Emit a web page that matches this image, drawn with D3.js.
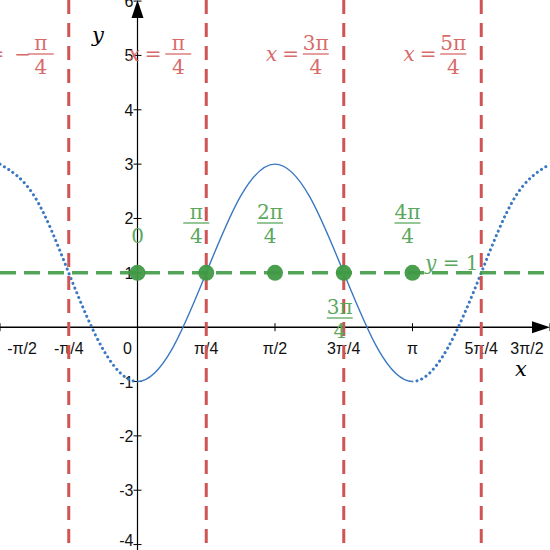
<!DOCTYPE html>
<html><head><meta charset="utf-8">
<script src="https://cdn.jsdelivr.net/npm/d3@7"></script>
<style>body{margin:0;background:#fff}svg{display:block}</style>
</head><body><div id="chart"></div>
<script>
const PI = Math.PI;
// x tick positions (multiples of pi/4) and labels
const xTickVals = [-2, -1, 0, 1, 2, 3, 4, 5, 6];
const xTickLabels = ["-π/2", "-π/4", "0", "π/4", "π/2", "3π/4", "π", "5π/4", "3π/2"];
const yTickVals = [-4, -3, -2, -1, 1, 2, 3, 4, 5, 6];
const curveX = [-4, -3, -2, -1, 0, 1, 2, 3, 4, 5, 6, 7, 8, 9, 10, 11, 12];
const curveY = [3, 2.41, 1, -0.41, -1, -0.41, 1, 2.41, 3, 2.41, 1, -0.41, -1, -0.41, 1, 2.41, 3];
// vertical dashed lines (pi/4 units) with numerators
const vLines = [-1, 1, 3, 5];
const vNums = ["π", "π", "3π", "5π"];
// points on y = 1 (pi/4 units) and labels
const ptX = [0, 1, 2, 3, 4];
const ptLabels = [null, "π", "2π", "3π", "4π"];

const width = 550, height = 550;
const svg = d3.select("#chart").append("svg").attr("width", width).attr("height", height);
const x = d3.scaleLinear().domain([-PI / 2, 3 * PI / 2]).range([0, 550]);
const y = d3.scaleLinear().domain([-4.1, 6.02]).range([550, 0]);
const x0 = x(0), y0 = y(0);
const serif = "'DejaVu Serif', 'Liberation Serif', serif";
const sans = "'Liberation Sans', Arial, sans-serif";

// axes
svg.append("line").attr("x1", 0).attr("x2", 538).attr("y1", y0).attr("y2", y0).attr("stroke", "#000").attr("stroke-width", 1.5);
svg.append("path").attr("d", `M550,${y0} L532,${y0 - 6} L532,${y0 + 6} Z`);
svg.append("line").attr("x1", x0).attr("x2", x0).attr("y1", 550).attr("y2", 12).attr("stroke", "#000").attr("stroke-width", 1.2);
svg.append("path").attr("d", `M${x0},0 L${x0 - 6},18 L${x0 + 6},18 Z`);

xTickVals.forEach((v, i) => {
  const px = x(v * PI / 4);
  if (v !== 0) svg.append("line").attr("x1", px).attr("x2", px).attr("y1", y0 - 4).attr("y2", y0 + 4).attr("stroke", "#000");
  let lx = px;
  if (v === 0) lx = px - 10;
  if (v === -2) lx = 22;
  if (v === 6) lx = 527;
  svg.append("text").attr("x", lx).attr("y", y0 + 27).attr("text-anchor", "middle").attr("fill", "#111")
    .attr("font-family", sans).attr("font-size", 16).text(xTickLabels[i]);
});
yTickVals.forEach(v => {
  const py = y(v);
  svg.append("line").attr("x1", x0 - 4).attr("x2", x0 + 4).attr("y1", py).attr("y2", py).attr("stroke", "#000");
  svg.append("text").attr("x", x0 - 4).attr("y", Math.min(py + 6, 546)).attr("text-anchor", "end").attr("fill", "#111")
    .attr("font-family", sans).attr("font-size", 16).text(v);
});
svg.append("text").attr("x", 92).attr("y", 42).attr("font-family", serif).attr("font-style", "italic").attr("font-size", 21).text("y");
svg.append("text").attr("x", 515).attr("y", 376).attr("font-family", serif).attr("font-style", "italic").attr("font-size", 21).text("x");

// curve: one smooth path, split by clipping into dotted and solid parts
const pts = curveX.map((v, i) => [v * PI / 8, curveY[i]]);
const line = d3.line().x(d => x(d[0])).y(d => y(d[1])).curve(d3.curveNatural);
const defs = svg.append("defs");
defs.append("clipPath").attr("id", "inner").append("rect").attr("x", x(0)).attr("y", 0).attr("width", x(PI) - x(0)).attr("height", 550);
const outer = defs.append("clipPath").attr("id", "outer");
outer.append("rect").attr("x", 0).attr("y", 0).attr("width", x(0)).attr("height", 550);
outer.append("rect").attr("x", x(PI)).attr("y", 0).attr("width", 550 - x(PI)).attr("height", 550);
svg.append("path").attr("d", line(pts)).attr("clip-path", "url(#outer)").attr("fill", "none").attr("stroke", "#3a78c2")
  .attr("stroke-width", 3).attr("stroke-dasharray", "0.1 5").attr("stroke-linecap", "round");
svg.append("path").attr("d", line(pts)).attr("clip-path", "url(#inner)").attr("fill", "none").attr("stroke", "#3a78c2").attr("stroke-width", 1.4);

// fraction helper
function frac(cx, cy, num, den, color) {
  const g = svg.append("g").attr("fill", color).attr("font-family", serif).attr("font-size", 20);
  g.append("text").attr("x", cx).attr("y", cy - 4).attr("text-anchor", "middle").text(num);
  g.append("line").attr("x1", cx - 13).attr("x2", cx + 13).attr("y1", cy).attr("y2", cy).attr("stroke", color).attr("stroke-width", 1.3);
  g.append("text").attr("x", cx).attr("y", cy + 20).attr("text-anchor", "middle").text(den);
}

// red vertical lines
const red = "#d05454", redText = "#d86a6a";
vLines.forEach((v, i) => {
  const px = x(v * PI / 4);
  svg.append("line").attr("x1", px).attr("x2", px).attr("y1", 0).attr("y2", 550)
    .attr("stroke", red).attr("stroke-width", 3).attr("stroke-dasharray", "14 9");
  const lbl = svg.append("g").attr("fill", redText).attr("font-family", serif).attr("font-size", 20);
  const off = v < 0 ? 20 : 0;
  lbl.append("text").attr("x", px - 72 - off).attr("y", 61).attr("text-anchor", "middle").attr("font-style", "italic").text("x");
  lbl.append("text").attr("x", px - 53 - off).attr("y", 61).attr("text-anchor", "middle").text("=");
  if (v < 0) lbl.append("text").attr("x", px - 46).attr("y", 61).attr("text-anchor", "middle").text("−");
  frac(px - 28, 54, vNums[i], "4", redText);
});

// green line y = 1
const green = "#3f9a45", greenText = "#5aa85e";
svg.append("line").attr("x1", 0).attr("x2", 550).attr("y1", y(1)).attr("y2", y(1))
  .attr("stroke", green).attr("stroke-width", 3.5).attr("stroke-dasharray", "16 8").attr("stroke-opacity", 0.9);
svg.append("text").attr("x", 425).attr("y", 270).attr("fill", greenText).attr("font-family", serif).attr("font-size", 20)
  .html('<tspan font-style="italic">y</tspan> = 1');

ptX.forEach((v, i) => {
  const px = x(v * PI / 4);
  svg.append("circle").attr("cx", px).attr("cy", y(1)).attr("r", 8).attr("fill", green).attr("fill-opacity", 0.95);
  if (i === 0) {
    svg.append("text").attr("x", px).attr("y", 243).attr("text-anchor", "middle").attr("fill", greenText)
      .attr("font-family", serif).attr("font-size", 20).text("0");
  } else if (v === 3) {
    frac(px - 4, 318, ptLabels[i], "4", greenText);
  } else {
    frac(px - (v === 1 ? 10 : 5), 223, ptLabels[i], "4", greenText);
  }
});
</script></body></html>
